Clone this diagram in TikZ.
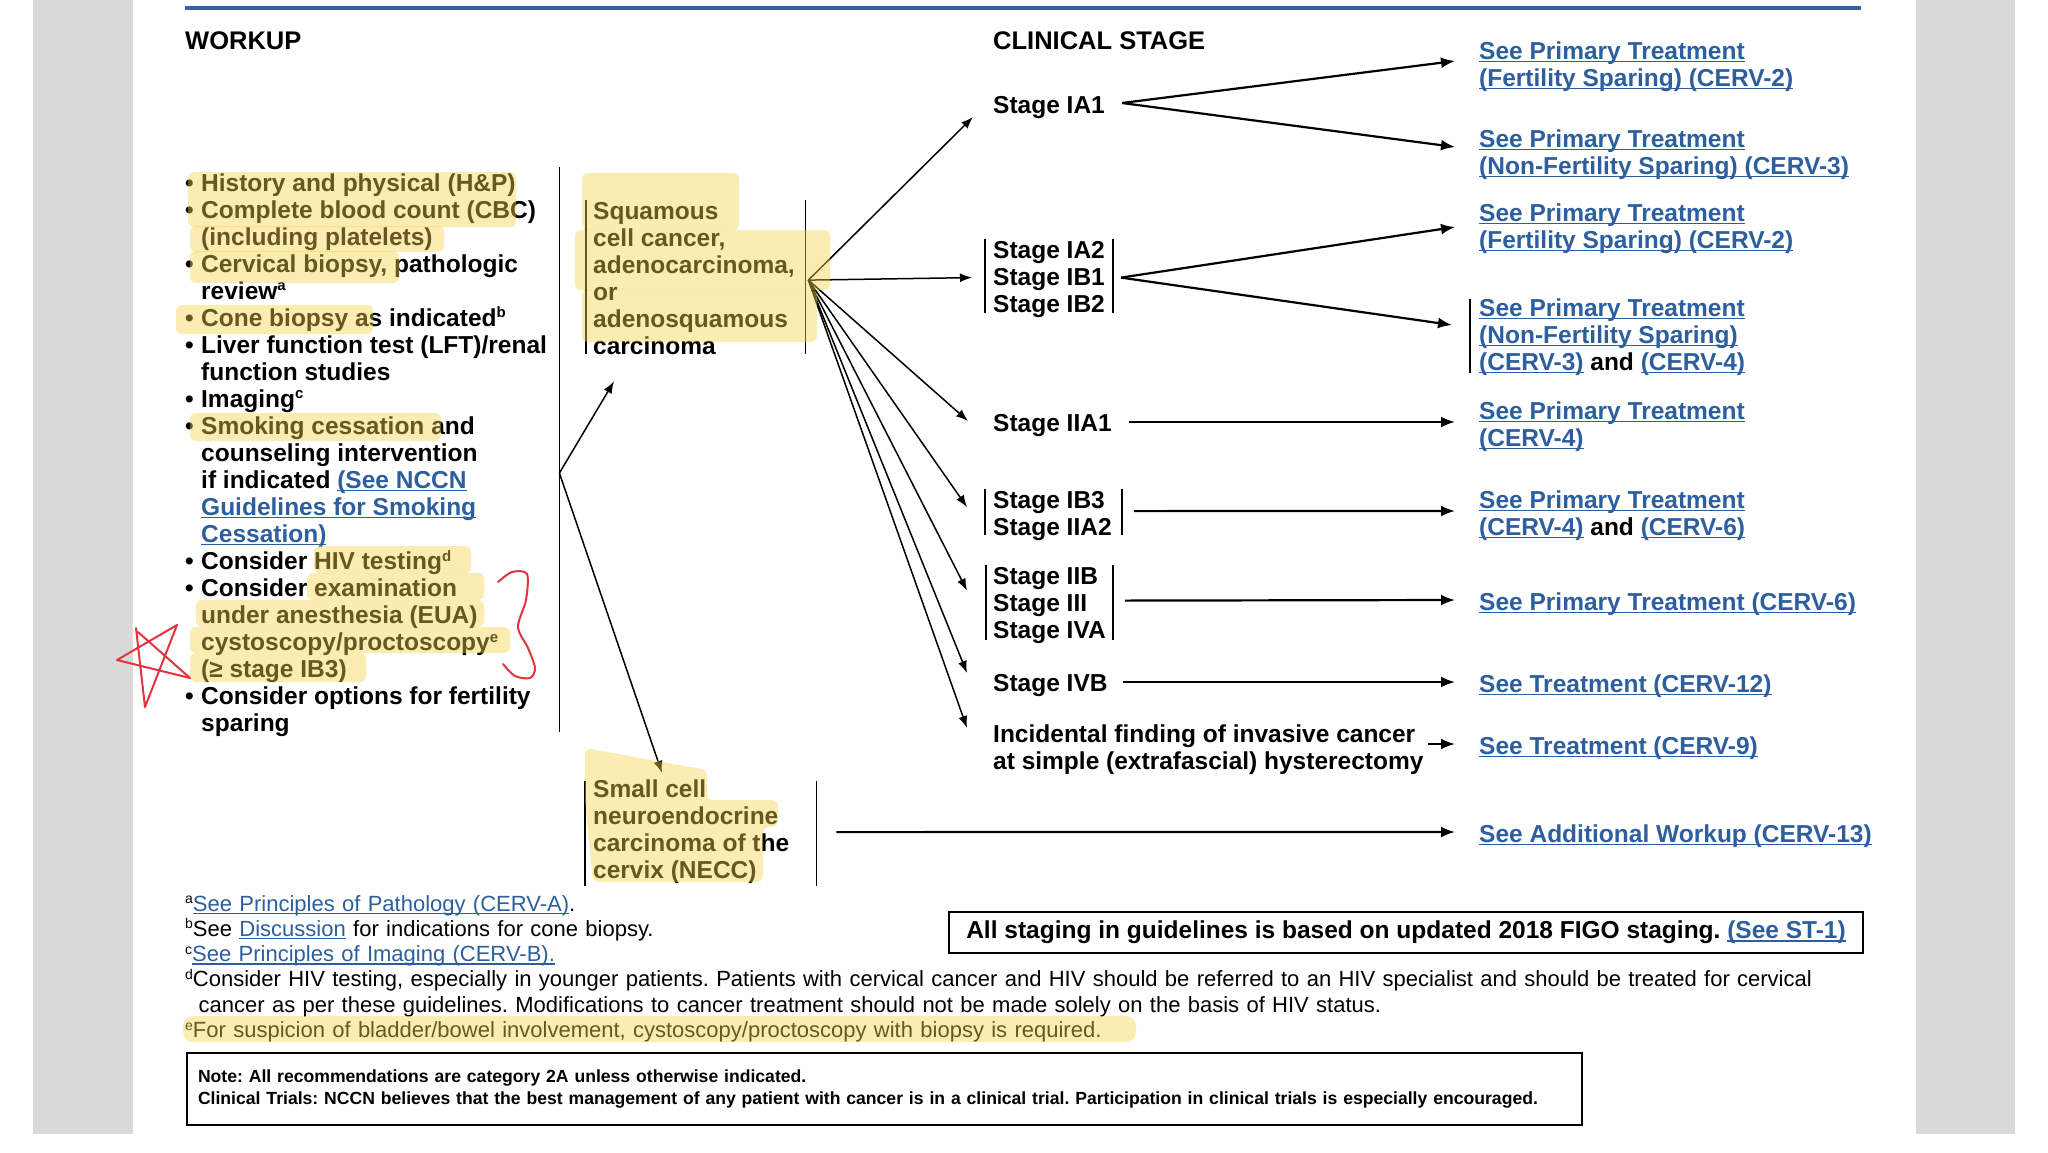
\documentclass[tikz,border=0pt]{standalone}
\usepackage{fontspec}
\setmainfont{Liberation Sans}
\usetikzlibrary{arrows.meta,calc}
\frenchspacing
\definecolor{linkblue}{RGB}{45,95,158}
\definecolor{ruleblue}{RGB}{52,102,162}
\definecolor{hl}{RGB}{247,212,70}
\definecolor{redpen}{RGB}{226,52,62}
\definecolor{sidegray}{RGB}{217,217,217}
\newsavebox\lnkbox
\newcommand\lnk[1]{{\color{linkblue}\sbox\lnkbox{#1}\rlap{\rule[-3pt]{\wd\lnkbox}{1.5pt}}\usebox\lnkbox}}
\newcommand\bul{\makebox[16pt][l]{•}}
\newcommand\ind{\hspace*{16pt}}
\newcommand\sups[1]{\raisebox{8.5pt}{\fontsize{15}{15}\selectfont #1}}
\newcommand\fsup[1]{\raisebox{7.5pt}{\fontsize{14}{14}\selectfont #1}}
\newcommand\lines[1]{\begin{tabular}[t]{@{}l@{}}#1\end{tabular}}
\newcommand\plines[2]{\begin{tabular}[t]{@{}p{#1}@{}}#2\end{tabular}}
\begin{document}
\begin{tikzpicture}[x=1pt,y=-1pt,
  txt/.style={inner sep=0pt, anchor=base west, font=\fontsize{24.5}{27}\selectfont\bfseries},
  hdr/.style={inner sep=0pt, anchor=base west, font=\fontsize{25.5}{27}\selectfont\bfseries},
  tr/.style={txt, text=linkblue},
  bar/.style={line width=1.6pt},
  fan/.style={line width=1.5pt, -{Latex[length=12pt,width=9pt]}},
  go/.style={line width=2.2pt, -{Latex[length=14pt,width=11pt]}},
  hil/.style={fill=hl, opacity=0.42, rounded corners=6pt},
  pen/.style={draw=redpen, line width=2pt, line cap=round, line join=round}
]
\useasboundingbox (0,0) rectangle (2048,1152);
\fill[white] (0,0) rectangle (2048,1152);
\fill[sidegray] (33,0) rectangle (133,1134);
\fill[sidegray] (1916,0) rectangle (2015,1134);
\draw[ruleblue, line width=4pt] (185,8) -- (1861,8);

% headers
\node[hdr] (hw) at (185,49) {WORKUP};
\node[hdr] (hc) at (993,49) {CLINICAL STAGE};

% workup list
\node[txt] (wk) at (185,191) {\plines{374pt}{%
\bul History and physical (H\&P)\\
\bul Complete blood count (CBC)\\
\ind (including platelets)\\
\bul Cervical biopsy, pathologic\\
\ind review\sups{a}\\
\bul Cone biopsy as indicated\sups{b}\\
\bul Liver function test (LFT)/renal\\
\ind function studies\\
\bul Imaging\sups{c}\\
\bul Smoking cessation and\\
\ind counseling intervention\\
\ind if indicated \lnk{(See NCCN}\\
\ind \lnk{Guidelines for Smoking}\\
\ind \lnk{Cessation)}\\
\bul Consider HIV testing\sups{d}\\
\bul Consider examination\\
\ind under anesthesia (EUA)\\
\ind cystoscopy/proctoscopy\sups{e}\\
\ind (≥ stage IB3)\\
\bul Consider options for fertility\\
\ind sparing}};
\draw[bar] ($(wk.north east)+(0,-5)$) -- ($(wk.south east)+(0,-8)$);

% histology
\node[txt, inner xsep=7pt] (sq) at (586,219) {\plines{205pt}{Squamous\\cell cancer,\\adenocarcinoma,\\or\\adenosquamous\\carcinoma}};
\draw[bar] (sq.north west) -- ($(sq.south west)+(0,-8)$) (sq.north east) -- ($(sq.south east)+(0,-8)$);

\node[txt, inner xsep=8pt] (necc) at (585,797) {\plines{215pt}{Small cell\\neuroendocrine\\carcinoma of the\\cervix (NECC)}};
\draw[bar] ($(necc.north west)+(0,3)$) -- (necc.south west) ($(necc.north east)+(0,3)$) -- (necc.south east);

% stages
\node[txt] (s1) at (993,113) {Stage IA1};
\node[txt, inner xsep=8pt] (g1) at (985,258) {\lines{Stage IA2\\Stage IB1\\Stage IB2}};
\draw[bar] (g1.north west) -- ($(g1.south west)+(0,-7)$) (g1.north east) -- ($(g1.south east)+(0,-7)$);
\node[txt] (s2) at (993,431) {Stage IIA1};
\node[txt, inner xsep=8pt] (g2) at (985,508) {\lines{Stage IB3\\Stage IIA2}};
\draw[bar] (g2.north west) -- ($(g2.south west)+(0,-8)$) ($(g2.north east)+(2,0)$) -- ($(g2.south east)+(2,-8)$);
\node[txt, inner xsep=7pt] (g3) at (986,584) {\lines{Stage IIB\\Stage III\\Stage IVA}};
\draw[bar] (g3.north west) -- ($(g3.south west)+(0,-6)$) (g3.north east) -- ($(g3.south east)+(0,-6)$);
\node[txt] (s3) at (993,691) {Stage IVB};
\node[txt] (inc) at (993,742) {\lines{Incidental finding of invasive cancer\\at simple (extrafascial) hysterectomy}};

% treatments
\node[tr] (t1) at (1479,59) {\lines{\lnk{See Primary Treatment}\\\lnk{(Fertility Sparing) (CERV-2)}}};
\node[tr] (t2) at (1479,147) {\lines{\lnk{See Primary Treatment}\\\lnk{(Non-Fertility Sparing) (CERV-3)}}};
\node[tr] (t3) at (1479,221) {\lines{\lnk{See Primary Treatment}\\\lnk{(Fertility Sparing) (CERV-2)}}};
\node[tr, inner xsep=9pt] (t4) at (1470,316) {\lines{\lnk{See Primary Treatment}\\\lnk{(Non-Fertility Sparing)}\\\lnk{(CERV-3)} {\color{black}and} \lnk{(CERV-4)}}};
\draw[bar] ($(t4.north west)+(0,2)$) -- ($(t4.south west)+(0,-5)$);
\node[tr] (t5) at (1479,419) {\lines{\lnk{See Primary Treatment}\\\lnk{(CERV-4)}}};
\node[tr] (t6) at (1479,508) {\lines{\lnk{See Primary Treatment}\\\lnk{(CERV-4)} {\color{black}and} \lnk{(CERV-6)}}};
\node[tr] (t7) at (1479,610) {\lnk{See Primary Treatment (CERV-6)}};
\node[tr] (t8) at (1479,692) {\lnk{See Treatment (CERV-12)}};
\node[tr] (t9) at (1479,754) {\lnk{See Treatment (CERV-9)}};
\node[tr] (t10) at (1479,842) {\lnk{See Additional Workup (CERV-13)}};

% workup arrows
\coordinate (wksplit) at ($(wk.east)+(0,17)$);
\draw[fan] (wksplit) -- ($(sq.south west)+(28,19)$);
\draw[fan] (wksplit) -- ($(necc.north west)+(77,-5)$);

% fan from histology
\coordinate (sqout) at ($(sq.east)+(3,-1)$);
\draw[fan] (sqout) -- ($(s1.base west)+(-20,4)$);
\draw[fan] (sqout) -- ($(g1.west)+(-13,-2)$);
\draw[fan] (sqout) -- ($(s2.base west)+(-25,-10)$);
\draw[fan] (sqout) -- ($(g2.west)+(-18,-9)$);
\draw[fan] (sqout) -- ($(g3.west)+(-19,-15)$);
\draw[fan] (sqout) -- ($(s3.base west)+(-26,-18)$);
\draw[fan] (sqout) -- ($(inc.base west)+(-26,-14)$);

% stage -> treatment
\draw[go] ($(s1.base east)+(17,-10)$) -- ($(t1.base west)+(-24,2)$);
\draw[go] ($(s1.base east)+(17,-10)$) -- ($(t2.base west)+(-24,0)$);
\draw[go] ($(g1.east)+(8,-2)$) -- ($(t3.base west)+(-24,6)$);
\draw[go] ($(g1.east)+(8,-2)$) -- ($(t4.base west)+(-18,9)$);
\draw[go] ($(s2.base east)+(17,-9)$) -- ($(t5.base west)+(-24,3)$);
\draw[go] ($(g2.east)+(14,-5)$) -- ($(t6.base west)+(-24,3)$);
\draw[go] ($(g3.east)+(12,-5)$) -- ($(t7.base west)+(-24,-10)$);
\draw[go] ($(s3.base east)+(15,-9)$) -- ($(t8.base west)+(-24,-10)$);
\draw[go] ($(inc.base east)+(4,2)$) -- ($(t9.base west)+(-24,-10)$);
\draw[go] ($(necc.east)+(20,0)$) -- ($(t10.base west)+(-24,-10)$);

% footnotes
\node[inner sep=0pt, anchor=base west, align=left, text width=1720pt, font=\fontsize{22}{25.3}\selectfont] (fn) at (185,911) {%
\fsup{a}\lnk{See Principles of Pathology (CERV-A)}.\\
\fsup{b}See \lnk{Discussion} for indications for cone biopsy.\\
\fsup{c}\lnk{See Principles of Imaging (CERV-B).}\\
\fsup{d}Consider HIV testing, especially in younger patients. Patients with cervical cancer and HIV should be referred to an HIV specialist and should be treated for cervical\\
\hspace*{13.5pt}cancer as per these guidelines. Modifications to cancer treatment should not be made solely on the basis of HIV status.\\
\fsup{e}For suspicion of bladder/bowel involvement, cystoscopy/proctoscopy with biopsy is required.};

\node[draw, line width=2pt, anchor=west, minimum width=914pt, minimum height=41pt, inner sep=0pt, font=\fontsize{24.5}{27}\selectfont\bfseries] (stg) at (948,932.5) {All staging in guidelines is based on updated 2018 FIGO staging. \lnk{(See ST-1)}};

\node[draw, line width=2pt, anchor=north west, minimum width=1395pt, minimum height=72pt, inner xsep=11pt, inner ysep=0pt, text width=1373pt, align=left, font=\fontsize{17.6}{22}\selectfont\bfseries] (note) at (186,1052) {\mbox{Note: All recommendations are category 2A unless otherwise indicated.}\\\mbox{Clinical Trials: NCCN believes that the best management of any patient with cancer is in a clinical trial. Participation in clinical trials is especially encouraged.}};

% highlighter marks
\fill[hil] (188,172) rectangle (516,227);
\fill[hil] (190,226) rectangle (444,252);
\fill[hil] (190,251) rectangle (399,283);
\fill[hil] (176,305) rectangle (373,334);
\fill[hil] (582,173) rectangle (739,230);
\fill[hil] (575,230) rectangle (830,290);
\fill[hil] (582,290) rectangle (817,342);
\fill[hil] (190,413) rectangle (441,441);
\fill[hil] (314,546) rectangle (471,573);
\fill[hil] (307,573) rectangle (484,600);
\fill[hil] (196,600) rectangle (484,627);
\fill[hil] (190,627) rectangle (510,653);
\fill[hil] (190,653) rectangle (366,682);
\fill[hil] (585,748) -- (707,770) -- (707,800) -- (778,800) -- (778,827) -- (763,827) -- (763,882) -- (593,882) -- (585,800) -- cycle;
\fill[hil, rounded corners=10pt] (183,1016) rectangle (1136,1042);

% red pen marks
\draw[pen] (138,632) -- (190,678) -- (117,660) -- (177,625) -- (145,707) -- (136,628);
\draw[pen] plot[smooth] coordinates {(498,582) (512,572) (527,574) (526,600) (518,627) (528,648) (535,668) (530,678) (515,676) (503,664)};
\end{tikzpicture}
\end{document}
